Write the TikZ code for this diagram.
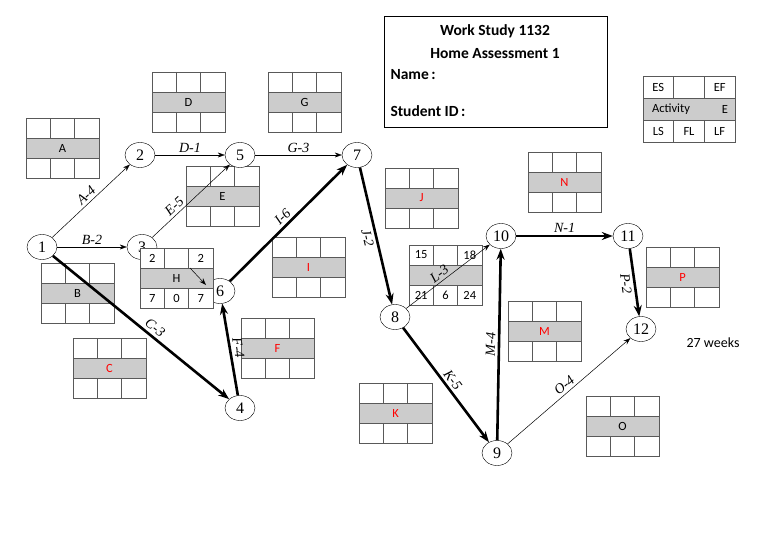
\documentclass[tikz,border=0pt]{standalone}
\usepackage{fontspec}
\setmainfont{Liberation Serif}
\newfontfamily\boxfont{Carlito}
\usetikzlibrary{shapes.geometric,arrows.meta}

\tikzset{
	event/.style={ellipse, draw, fill=white, minimum width=30pt, minimum height=25pt, inner sep=0pt, font=\fontsize{16}{16}\selectfont},
	act/.style={draw, -{Stealth[length=7pt,width=5pt]}, line width=0.5pt},
	crit/.style={draw, -{Stealth[length=11pt,width=8pt]}, line width=2.6pt},
	elab/.style={font=\fontsize{14}{14}\selectfont\itshape, inner sep=2.5pt},
	cell/.style={font=\boxfont\fontsize{12.5}{12.5}\selectfont}
}
% activity box: #1 top-left corner, #2 label, #3 label colour, #4..#8 values
\newcommand\actbox[9]{
	\begin{scope}[shift={#1}]
		\fill[black!20] (0,20) rectangle (73,40);
		\draw[gray!70!black, line width=0.7pt] (0,0) rectangle (73,60);
		\foreach \yy in {20,40} \draw[gray!70!black, line width=0.7pt] (0,\yy) -- (73,\yy);
		\foreach \xx in {24.3,48.7} {
			\draw[gray!70!black, line width=0.7pt] (\xx,0) -- (\xx,20);
			\draw[gray!70!black, line width=0.7pt] (\xx,40) -- (\xx,60);
		}
		\node[cell, text=#3] at (36.5,30) {#2};
		\node[cell] at (12.2,10) {#4};
		\node[cell] at (60.8,10) {#5};
		\node[cell] at (12.2,50) {#6};
		\node[cell] at (36.5,50) {#7};
		\node[cell] at (60.8,50) {#8};
	\end{scope}
}

\begin{document}
\begin{tikzpicture}[x=1pt, y=-1pt]
	\useasboundingbox (0,0) rectangle (768,543);

	% activity boxes
	\actbox{(26,118)}{A}{black}{}{}{}{}{}{}
	\actbox{(152,72)}{D}{black}{}{}{}{}{}{}
	\actbox{(268,72)}{G}{black}{}{}{}{}{}{}
	\actbox{(186,166)}{E}{black}{}{}{}{}{}{}
	\actbox{(41,263)}{B}{black}{}{}{}{}{}{}
	\actbox{(272,237)}{I}{red}{}{}{}{}{}{}
	\actbox{(73,338)}{C}{red}{}{}{}{}{}{}
	\actbox{(241,318)}{F}{red}{}{}{}{}{}{}
	\actbox{(385,168)}{J}{red}{}{}{}{}{}{}
	\actbox{(359,383)}{K}{red}{}{}{}{}{}{}
	\actbox{(409,245)}{}{black}{15}{18}{21}{6}{24}{}
	\actbox{(528,152)}{N}{red}{}{}{}{}{}{}
	\actbox{(508,301)}{M}{red}{}{}{}{}{}{}
	\actbox{(646,247)}{P}{red}{}{}{}{}{}{}
	\actbox{(586,396)}{O}{black}{}{}{}{}{}{}

	% events
	\node[event] (n1) at (42,247) {1};
	\node[event] (n2) at (140,155) {2};
	\node[event] (n3) at (142,247) {3};
	\node[event] (n5) at (240,155) {5};
	\node[event] (n7) at (357,155) {7};
	\node[event] (n6) at (220,291) {6};
	\node[event] (n4) at (240,408) {4};
	\node[event] (n8) at (395,317) {8};
	\node[event] (n10) at (501,236) {10};
	\node[event] (n11) at (628,236) {11};
	\node[event] (n12) at (641,329) {12};
	\node[event] (n9) at (497,453) {9};

	% activities
	\draw[act] (n1) -- node[elab, sloped, above] {A-4} (n2);
	\draw[act] (n2) -- node[elab, above] {D-1} (n5);
	\draw[act] (n5) -- node[elab, above] {G-3} (n7);
	\draw[act] (n3) -- node[elab, sloped, above, pos=0.35] {E-5} (n5);
	\draw[act] (n1) -- node[elab, above] {B-2} (n3);
	\draw[act] (n8) -- node[elab, sloped, above, pos=0.45] {L-3} (n10);
	\draw[act] (n9) -- node[elab, sloped, above] {O-4} (n12);
	\draw[crit] (n1) -- node[elab, sloped, above, pos=0.55] {C-3} (n4);
	\draw[crit] (n4) -- node[elab, sloped, above] {F-4} (n6);
	\draw[crit] (n6) -- node[elab, sloped, above] {I-6} (n7);
	\draw[crit] (n7) -- node[elab, sloped, below] {J-2} (n8);
	\draw[crit] (n8) -- node[elab, sloped, above] {K-5} (n9);
	\draw[crit] (n9) -- node[elab, sloped, above] {M-4} (n10);
	\draw[crit] (n10) -- node[elab, above] {N-1} (n11);
	\draw[crit] (n11) -- node[elab, sloped, below] {P-2} (n12);

	% box H over events 3 and 6
	\fill[white] (140,248) rectangle (213,306);
	\actbox{(140,248)}{H}{black}{2}{2}{7}{0}{7}{}
	\draw[act] (190,268) -- (206,285);

	% legend
	\begin{scope}[shift={(643,76)}]
		\fill[black!20] (0,22) rectangle (92,44);
		\draw[gray!70!black, line width=0.7pt] (0,0) rectangle (92,66);
		\foreach \yy in {22,44} \draw[gray!70!black, line width=0.7pt] (0,\yy) -- (92,\yy);
		\foreach \xx in {30.7,61.3} {
			\draw[gray!70!black, line width=0.7pt] (\xx,0) -- (\xx,22);
			\draw[gray!70!black, line width=0.7pt] (\xx,44) -- (\xx,66);
		}
		\node[cell] (les) at (15.3,11) {ES};
		\node[cell] (lef) at (76.7,11) {EF};
		\node[cell] (lact) at (28,33) {Activity};
		\node[cell] (le) at (82,33) {E};
		\node[cell] (lls) at (15.3,55) {LS};
		\node[cell] (lfl) at (46,55) {FL};
		\node[cell] (llf) at (76.7,55) {LF};
	\end{scope}

	% title
	\draw[line width=0.8pt] (384,16) rectangle (607,127);
	\node[font=\boxfont\bfseries\fontsize{15.5}{15.5}\selectfont] (title1) at (495,31) {Work Study 1132};
	\node[font=\boxfont\bfseries\fontsize{15.5}{15.5}\selectfont] (title2) at (495,54) {Home Assessment 1};
	\node[font=\boxfont\bfseries\fontsize{15.5}{15.5}\selectfont, anchor=west] (name) at (387,75) {Name\,:};
	\node[font=\boxfont\bfseries\fontsize{15.5}{15.5}\selectfont, anchor=west] (sid) at (387,111) {Student ID\,:};

	\node[font=\boxfont\fontsize{14}{14}\selectfont] (weeks) at (713,343) {27 weeks};
\end{tikzpicture}
\end{document}
